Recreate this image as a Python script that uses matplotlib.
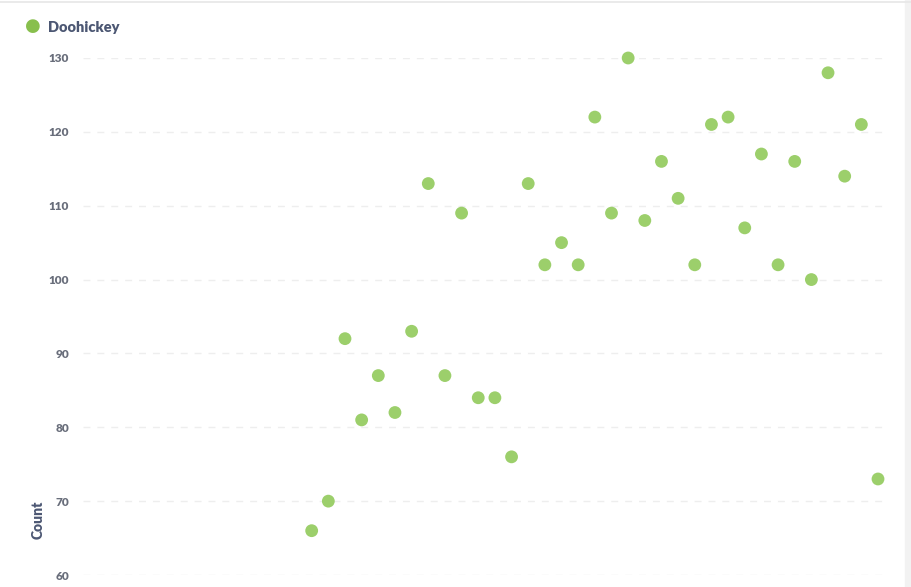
import matplotlib
matplotlib.use("Agg")
import matplotlib.pyplot as plt
from matplotlib.patches import Rectangle

# values (x axis itself is cut off, points are evenly spaced)
x_vals = list(range(15, 50))
counts = [66, 70, 92, 81, 87, 82, 93, 113, 87, 109, 84, 84, 76, 113, 102, 105, 102,
          122, 109, 130, 108, 116, 111, 102, 121, 122, 107, 117, 102, 116, 100, 128,
          114, 121, 73]
y_ticks = [60, 70, 80, 90, 100, 110, 120, 130]
series_name = "Doohickey"

plt.rcParams['font.family'] = ['Lato', 'DejaVu Sans']

W, H = 912, 587
fig = plt.figure(figsize=(W / 100, H / 100), dpi=100)

# axes placed in pixels: left 83, right 888, y=130 at 58px, y=60 at 575px
ax = fig.add_axes([83 / W, (H - 575) / H, (888 - 83) / W, (575 - 58) / H])
ax.scatter(x_vals, counts, s=85, color="#9ccf6b", edgecolors="none", zorder=3, clip_on=False)

ax.set_ylim(60, 130)
ax.set_xlim(15 - (312 - 83) / 16.68, 49.6)
ax.set_yticks(y_ticks)
ax.set_yticklabels([str(t) for t in y_ticks], fontsize=8.5, fontweight="heavy", color="#696e7b")
ax.tick_params(axis="y", length=0, pad=10)
ax.set_xticks([])
ax.grid(axis="y", color="#eeeeee", linestyle=(0, (5, 5)), linewidth=1)
ax.set_axisbelow(True)
for s in ax.spines.values():
    s.set_visible(False)

# y label sits low because the full chart is taller than the crop
fig.text(38 / W, 1 - 520 / H, "Count", rotation=90, ha="center", va="center",
         fontsize=10, fontweight="heavy", color="#4c5773")

# legend
fig.text(33 / W, 1 - 26 / H, "\u25cf", ha="center", va="center", fontsize=13,
         color="#88bf4d", family="DejaVu Sans")
fig.text(48 / W, 1 - 27 / H, series_name, ha="left", va="center", fontsize=10.5,
         fontweight="heavy", color="#4c5773")

# top border and right scroll strip
fig.add_artist(plt.Line2D([0, 1], [1 - 1.5 / H, 1 - 1.5 / H], color="#e6e6e6", lw=1.2))
fig.add_artist(Rectangle((905 / W, 0), 7 / W, 1, color="#f2f2f2", transform=fig.transFigure))

fig.savefig("out.png", dpi=100)
